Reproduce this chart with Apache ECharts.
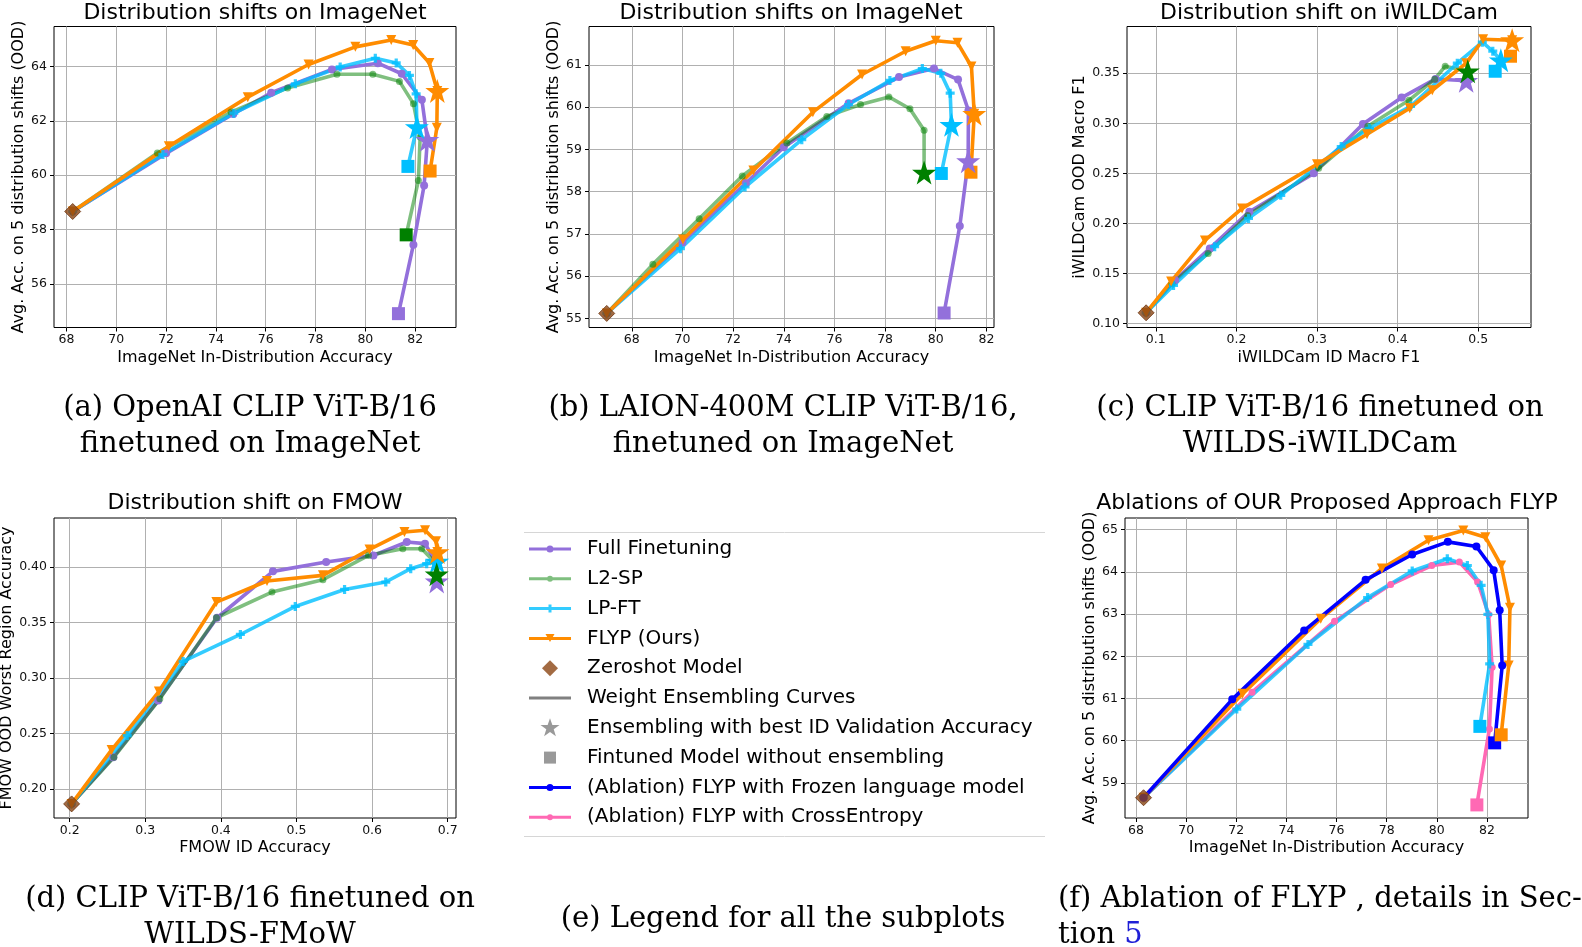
<!DOCTYPE html>
<html>
<head>
<meta charset="utf-8">
<script src="https://cdn.jsdelivr.net/npm/echarts@6.0.0/dist/echarts.min.js"></script>
<style>
  html, body { margin: 0; padding: 0; background: #fff; }
  #fig { width: 1582px; height: 947px; }
</style>
</head>
<body>
<div id="fig"></div>
<script>
// tick labels, one set per panel (a, b, c, d, f)
const aXTicks = [68, 70, 72, 74, 76, 78, 80, 82];
const aYTicks = [56, 58, 60, 62, 64];
const bXTicks = [68, 70, 72, 74, 76, 78, 80, 82];
const bYTicks = [55, 56, 57, 58, 59, 60, 61];
const cXTicks = [0.1, 0.2, 0.3, 0.4, 0.5];
const cYTicks = [0.10, 0.15, 0.20, 0.25, 0.30, 0.35];
const dXTicks = [0.2, 0.3, 0.4, 0.5, 0.6, 0.7];
const dYTicks = [0.20, 0.25, 0.30, 0.35, 0.40];
const fXTicks = [68, 70, 72, 74, 76, 78, 80, 82];
const fYTicks = [59, 60, 61, 62, 63, 64, 65];

// zeroshot model, panels a, b, c, d, f
const zeroX = [68.25, 67.01, 0.088, 0.2026, 68.3];
const zeroY = [58.66, 55.12, 0.1107, 0.1865, 58.65];

// (a) OpenAI CLIP ViT-B/16 on ImageNet
const aFullX = [68.25, 72.0, 74.7, 76.22, 78.66, 80.5, 81.46, 82.27, 82.49, 82.36, 81.93, 81.33];
const aFullY = [58.66, 60.8, 62.25, 63.03, 63.89, 64.12, 63.73, 62.77, 61.3, 59.62, 57.44, 54.9];
const aL2X = [68.25, 71.65, 74.61, 76.88, 78.86, 80.3, 81.37, 81.93, 82.2, 82.13, 81.64];
const aL2Y = [58.66, 60.81, 62.32, 63.21, 63.71, 63.71, 63.45, 62.63, 61.4, 59.8, 57.8];
const aLpX = [68.25, 71.87, 74.72, 77.19, 78.99, 80.4, 81.24, 81.77, 82.04, 82.07, 81.71];
const aLpY = [58.66, 60.76, 62.28, 63.36, 63.98, 64.3, 64.13, 63.67, 62.99, 61.77, 60.32];
const aFlypX = [68.25, 72.11, 75.28, 77.72, 79.6, 81.04, 81.92, 82.57, 82.89, 82.87, 82.6];
const aFlypY = [58.66, 61.06, 62.87, 64.07, 64.72, 64.97, 64.79, 64.13, 63.1, 61.74, 60.15];
const aStarNames = ['Full Finetuning', 'LP-FT', 'FLYP (Ours)'];
const aStarX = [82.49, 82.07, 82.89];
const aStarY = [61.3, 61.77, 63.1];
const aSquareNames = ['Full Finetuning', 'L2-SP', 'LP-FT', 'FLYP (Ours)'];
const aSquareX = [81.33, 81.64, 81.71, 82.6];
const aSquareY = [54.9, 57.8, 60.32, 60.15];

// (b) LAION-400M CLIP ViT-B/16 on ImageNet
const bFullX = [67.01, 70.0, 72.5, 74.0, 76.56, 78.55, 79.93, 80.88, 81.29, 81.28, 80.95, 80.33];
const bFullY = [55.12, 56.8, 58.2, 59.05, 60.09, 60.71, 60.91, 60.65, 59.92, 58.72, 57.19, 55.13];
const bL2X = [67.01, 68.83, 70.66, 72.36, 74.12, 75.7, 77.03, 78.15, 78.98, 79.54, 79.54];
const bL2Y = [55.12, 56.28, 57.36, 58.37, 59.15, 59.78, 60.06, 60.24, 59.96, 59.45, 58.45];
const bLpX = [67.01, 69.92, 72.47, 74.71, 76.56, 78.19, 79.47, 80.2, 80.57, 80.62, 80.22];
const bLpY = [55.12, 56.65, 58.11, 59.23, 60.06, 60.63, 60.91, 60.8, 60.33, 59.58, 58.43];
const bFlypX = [67.01, 70.02, 72.8, 75.15, 77.09, 78.81, 80.0, 80.86, 81.41, 81.52, 81.39];
const bFlypY = [55.12, 56.87, 58.5, 59.88, 60.77, 61.32, 61.57, 61.52, 60.96, 59.84, 58.46];
const bStarNames = ['L2-SP', 'LP-FT', 'Full Finetuning', 'FLYP (Ours)'];
const bStarX = [79.54, 80.62, 81.28, 81.52];
const bStarY = [58.45, 59.58, 58.72, 59.84];
const bSquareNames = ['Full Finetuning', 'LP-FT', 'FLYP (Ours)'];
const bSquareX = [80.33, 80.22, 81.39];
const bSquareY = [55.13, 58.43, 58.46];

// (c) WILDS-iWILDCam
const cFullX = [0.088, 0.124, 0.167, 0.216, 0.296, 0.357, 0.405, 0.447, 0.485];
const cFullY = [0.1107, 0.1433, 0.175, 0.2117, 0.250, 0.2993, 0.3257, 0.3443, 0.3425];
const cL2X = [0.088, 0.120, 0.165, 0.214, 0.302, 0.363, 0.414, 0.446, 0.459, 0.487];
const cL2Y = [0.1107, 0.140, 0.170, 0.208, 0.255, 0.297, 0.323, 0.344, 0.357, 0.352];
const cLpX = [0.088, 0.122, 0.173, 0.215, 0.255, 0.330, 0.365, 0.416, 0.474, 0.505, 0.518, 0.528];
const cLpY = [0.1107, 0.138, 0.1767, 0.205, 0.228, 0.2767, 0.295, 0.317, 0.360, 0.381, 0.372, 0.363];
const cFlypX = [0.088, 0.119, 0.161, 0.207, 0.300, 0.362, 0.415, 0.443, 0.485, 0.506, 0.542];
const cFlypY = [0.1107, 0.142, 0.183, 0.215, 0.259, 0.289, 0.315, 0.333, 0.360, 0.384, 0.383];
const cStarNames = ['Full Finetuning', 'L2-SP', 'LP-FT', 'FLYP (Ours)'];
const cStarX = [0.485, 0.487, 0.528, 0.542];
const cStarY = [0.3425, 0.352, 0.363, 0.383];
const cSquareNames = ['LP-FT', 'FLYP (Ours)'];
const cSquareX = [0.521, 0.540];
const cSquareY = [0.352, 0.367];

// (d) WILDS-FMoW
const dFullX = [0.2026, 0.2577, 0.3171, 0.395, 0.4689, 0.5393, 0.6018, 0.6459, 0.67, 0.684, 0.6855];
const dFullY = [0.1865, 0.2286, 0.2797, 0.3543, 0.3961, 0.4045, 0.4105, 0.4226, 0.4211, 0.405, 0.387];
const dL2X = [0.2026, 0.2585, 0.3193, 0.3941, 0.4676, 0.535, 0.5952, 0.6406, 0.6657, 0.682, 0.6855];
const dL2Y = [0.1865, 0.2286, 0.2812, 0.3543, 0.3774, 0.3886, 0.4105, 0.4165, 0.4165, 0.405, 0.3934];
const dLpX = [0.2026, 0.2761, 0.3501, 0.4258, 0.4984, 0.5636, 0.6181, 0.6511, 0.6722, 0.686];
const dLpY = [0.1865, 0.2481, 0.3149, 0.3392, 0.3645, 0.3798, 0.3865, 0.3985, 0.403, 0.405];
const dFlypX = [0.2026, 0.2555, 0.318, 0.3941, 0.461, 0.535, 0.5966, 0.6428, 0.6701, 0.6846, 0.6864];
const dFlypY = [0.1865, 0.2352, 0.2878, 0.3684, 0.3874, 0.3925, 0.4159, 0.4316, 0.4331, 0.4232, 0.4135];
const dStarNames = ['Full Finetuning', 'LP-FT', 'FLYP (Ours)', 'L2-SP'];
const dStarX = [0.6855, 0.686, 0.6864, 0.6855];
const dStarY = [0.387, 0.405, 0.4135, 0.3934];

// (f) ablations on ImageNet
const fLpX = [68.3, 72.02, 74.86, 77.24, 79.02, 80.42, 81.22, 81.77, 82.04, 82.11, 81.72];
const fLpY = [58.65, 60.75, 62.28, 63.39, 64.02, 64.31, 64.15, 63.68, 62.99, 61.82, 60.34];
const fCeX = [68.3, 72.63, 75.92, 78.16, 79.8, 80.9, 81.63, 82.07, 82.21, 82.1, 81.6];
const fCeY = [58.65, 61.15, 62.83, 63.7, 64.15, 64.23, 63.76, 62.99, 61.74, 60.28, 58.48];
const fFlypX = [68.3, 72.25, 75.37, 77.81, 79.67, 81.06, 81.94, 82.57, 82.92, 82.87, 82.57];
const fFlypY = [58.65, 61.11, 62.89, 64.08, 64.75, 64.98, 64.82, 64.15, 63.15, 61.78, 60.14];
const fFrozenX = [68.3, 71.84, 74.71, 77.16, 79.02, 80.44, 81.58, 82.27, 82.51, 82.61, 82.31];
const fFrozenY = [58.65, 60.98, 62.61, 63.81, 64.41, 64.71, 64.6, 64.04, 63.09, 61.78, 59.95];
const fSquareNames = ['LP-FT', '(Ablation) FLYP with Frozen language model', 'FLYP (Ours)', '(Ablation) FLYP with CrossEntropy'];
const fSquareX = [81.72, 82.31, 82.57, 81.6];
const fSquareY = [60.34, 59.95, 60.14, 58.48];

const FULL = 'Full Finetuning', L2 = 'L2-SP', LP = 'LP-FT', FLYP = 'FLYP (Ours)';
const FROZEN = '(Ablation) FLYP with Frozen language model', CE = '(Ablation) FLYP with CrossEntropy';
const ZERO = 'Zeroshot Model', WSE = 'Weight Ensembling Curves';
const BEST = 'Ensembling with best ID Validation Accuracy', FT = 'Fintuned Model without ensembling';

const STAR = 'path://M50,2L61.8,36.3L97.6,36.3L68.6,57.5L79.4,92L50,70.9L20.6,92L31.4,57.5L2.4,36.3L38.2,36.3Z';
const PLUS = 'path://M3.2,0H6.8V3.2H10V6.8H6.8V10H3.2V6.8H0V3.2H3.2Z';

const look = {};
look[FULL] = {color: '#9370DB', solid: '#9370DB', symbol: 'circle', size: 8};
look[L2] = {color: 'rgba(0,128,0,0.5)', solid: '#008000', symbol: 'circle', size: 7};
look[LP] = {color: 'rgba(0,191,255,0.8)', solid: '#00BFFF', symbol: PLUS, size: 9};
look[FLYP] = {color: '#FF8C00', solid: '#FF8C00', symbol: 'triangle', rotate: 180, size: 10};
look[FROZEN] = {color: '#0000FF', solid: '#0000FF', symbol: 'circle', size: 8};
look[CE] = {color: '#FF69B4', solid: '#FF69B4', symbol: 'circle', size: 7};

function pts(xs, ys) { return xs.map((x, i) => [x, ys[i]]); }

function curve(g, name, xs, ys) {
  const s = look[name];
  return {
    type: 'line', name: name, xAxisIndex: g, yAxisIndex: g, data: pts(xs, ys),
    symbol: s.symbol, symbolSize: s.size, symbolRotate: s.rotate || 0, showSymbol: true,
    lineStyle: {color: s.color, width: 3.6}, itemStyle: {color: s.color, borderWidth: 0},
    emphasis: {disabled: true}, z: 2
  };
}

function marks(g, names, xs, ys, star) {
  return names.map((n, i) => ({
    type: 'scatter', name: n, xAxisIndex: g, yAxisIndex: g, data: [[xs[i], ys[i]]],
    symbol: star ? STAR : 'rect', symbolSize: star ? 24 : 13,
    itemStyle: {color: look[n].solid, opacity: 1}, emphasis: {disabled: true}, z: star ? 4 : 3
  }));
}

function zero(g) {
  return {
    type: 'scatter', name: ZERO, xAxisIndex: g, yAxisIndex: g, data: [[zeroX[g], zeroY[g]]],
    symbol: 'diamond', symbolSize: 16, itemStyle: {color: '#8B4513', borderColor: '#6b3510', borderWidth: 1},
    emphasis: {disabled: true}, z: 5
  };
}

function axis(g, min, max, ticks, step, digits, name, gap, isX) {
  return {
    type: 'value', gridIndex: g, min: min, max: max, minInterval: step, maxInterval: step,
    name: name, nameLocation: 'middle', nameGap: gap,
    nameTextStyle: {fontSize: 16, color: '#000', fontFamily: 'DejaVu Sans'},
    axisLine: {show: false, onZero: false},
    axisTick: {show: true, inside: false, length: 4, lineStyle: {color: '#000', width: 1}, customValues: ticks},
    axisLabel: {show: true, fontSize: 12.5, color: '#111', margin: isX ? 6 : 7, customValues: ticks,
      formatter: v => Number(v).toFixed(digits)},
    splitLine: {show: true, lineStyle: {color: '#b0b0b0', width: 1}}
  };
}

const gridBase = {show: true, borderColor: '#000', borderWidth: 1, backgroundColor: 'transparent',
  containLabel: false, outerBoundsMode: 'none'};
const grids = [
  {left: 54, top: 26.5, width: 402, height: 301},
  {left: 589, top: 26.5, width: 405, height: 301},
  {left: 1127, top: 26.5, width: 404, height: 301},
  {left: 54, top: 518, width: 402, height: 300},
  {left: 1125, top: 518, width: 403, height: 300}
].map(g => Object.assign({}, gridBase, g));

const IN_ACC = 'ImageNet In-Distribution Accuracy';
const OOD_ACC = 'Avg. Acc. on 5 distribution shifts (OOD)';

const xAxes = [
  axis(0, 67.5, 83.64, aXTicks, 2, 0, IN_ACC, 22, true),
  axis(1, 66.31, 82.3, bXTicks, 2, 0, IN_ACC, 22, true),
  axis(2, 0.0643, 0.5654, cXTicks, 0.1, 1, 'iWILDCam ID Macro F1', 22, true),
  axis(3, 0.1793, 0.711, dXTicks, 0.1, 1, 'FMOW ID Accuracy', 22, true),
  axis(4, 67.56, 83.64, fXTicks, 2, 0, IN_ACC, 22, true)
];
const yAxes = [
  axis(0, 54.39, 65.47, aYTicks, 2, 0, OOD_ACC, 27, false),
  axis(1, 54.787, 61.906, bYTicks, 1, 0, OOD_ACC, 27, false),
  axis(2, 0.096, 0.3967, cYTicks, 0.05, 2, 'iWILDCam OOD Macro F1', 37, false),
  axis(3, 0.1738, 0.4442, dYTicks, 0.05, 2, 'FMOW OOD Worst Region Accuracy', 37, false),
  axis(4, 58.17, 65.275, fYTicks, 1, 0, OOD_ACC, 26, false)
];

// legend-only entries
const legendOnly = [
  {type: 'line', name: WSE, xAxisIndex: 0, yAxisIndex: 0, data: [], symbol: 'none',
    lineStyle: {color: '#808080', width: 3}, itemStyle: {color: '#808080'}},
  {type: 'scatter', name: BEST, xAxisIndex: 0, yAxisIndex: 0, data: [], itemStyle: {color: '#808080'}},
  {type: 'scatter', name: FT, xAxisIndex: 0, yAxisIndex: 0, data: [], itemStyle: {color: '#808080'}}
];

const series = [].concat(
  [curve(0, FULL, aFullX, aFullY), curve(0, L2, aL2X, aL2Y), curve(0, LP, aLpX, aLpY), curve(0, FLYP, aFlypX, aFlypY)],
  marks(0, aSquareNames, aSquareX, aSquareY, false), marks(0, aStarNames, aStarX, aStarY, true), [zero(0)],
  [curve(1, FULL, bFullX, bFullY), curve(1, L2, bL2X, bL2Y), curve(1, LP, bLpX, bLpY), curve(1, FLYP, bFlypX, bFlypY)],
  marks(1, bSquareNames, bSquareX, bSquareY, false), marks(1, bStarNames, bStarX, bStarY, true), [zero(1)],
  [curve(2, FULL, cFullX, cFullY), curve(2, L2, cL2X, cL2Y), curve(2, LP, cLpX, cLpY), curve(2, FLYP, cFlypX, cFlypY)],
  marks(2, cSquareNames, cSquareX, cSquareY, false), marks(2, cStarNames, cStarX, cStarY, true), [zero(2)],
  [curve(3, FULL, dFullX, dFullY), curve(3, L2, dL2X, dL2Y), curve(3, LP, dLpX, dLpY), curve(3, FLYP, dFlypX, dFlypY)],
  marks(3, dStarNames, dStarX, dStarY, true), [zero(3)],
  [curve(4, CE, fCeX, fCeY), curve(4, LP, fLpX, fLpY), curve(4, FLYP, fFlypX, fFlypY), curve(4, FROZEN, fFrozenX, fFrozenY)],
  marks(4, fSquareNames, fSquareX, fSquareY, false), [zero(4)],
  legendOnly
);

// legend icons: drawn inside a 53x20 box (the leading M points fix the box)
const BOX = 'path://M0,0M53,20';
const LINE = 'M0,8.5H42V11.5H0Z';
const dot = r => 'M' + (21 + r) + ',10A' + r + ',' + r + ' 0 1 1 ' + (21 - r) + ',10A' + r + ',' + r + ' 0 1 1 ' + (21 + r) + ',10Z';
const legendItems = [
  {name: FULL, icon: BOX + LINE + dot(3.5)},
  {name: L2, icon: BOX + LINE + dot(3)},
  {name: LP, icon: BOX + LINE + 'M19.5,6H22.5V14H19.5Z'},
  {name: FLYP, icon: BOX + LINE + 'M16.5,5.5H25.5L21,13.5Z'},
  {name: ZERO, icon: BOX + 'M21,2L29,10L21,18L13,10Z'},
  {name: WSE, icon: BOX + LINE},
  {name: BEST, icon: BOX + 'M21,0.4L23.36,7.26L30.52,7.26L24.72,11.5L26.88,18.4L21,14.18L15.12,18.4L17.28,11.5L11.48,7.26L18.64,7.26Z'},
  {name: FT, icon: BOX + 'M15,4H27V16H15Z'},
  {name: FROZEN, icon: BOX + LINE + dot(3.5)},
  {name: CE, icon: BOX + LINE + dot(3)}
];

const sub = {fontFamily: 'DejaVu Sans', fontSize: 22, fontWeight: 'normal', color: '#000', lineHeight: 24};
const cap = {fontFamily: 'DejaVu Serif', fontSize: 29, fontWeight: 'normal', color: '#000', lineHeight: 36,
  rich: {ref: {fontFamily: 'DejaVu Serif', fontSize: 29, color: '#1f1fd6', lineHeight: 36}}};
function ttl(text, x, y, style, align) {
  return {text: text, left: x, top: y, textAlign: align || 'center', padding: 0, textStyle: style};
}

const option = {
  animation: false,
  backgroundColor: '#fff',
  textStyle: {fontFamily: 'DejaVu Sans'},
  title: [
    ttl('Distribution shifts on ImageNet', 255, 1, sub),
    ttl('Distribution shifts on ImageNet', 791, 1, sub),
    ttl('Distribution shift on iWILDCam', 1329, 1, sub),
    ttl('Distribution shift on FMOW', 255, 491, sub),
    ttl('Ablations of OUR Proposed Approach FLYP', 1327, 491, sub),
    ttl('(a) OpenAI CLIP ViT-B/16\nfinetuned on ImageNet', 250, 390.5, cap),
    ttl('(b) LAION-400M CLIP ViT-B/16,\nfinetuned on ImageNet', 783, 390.5, cap),
    ttl('(c) CLIP ViT-B/16 finetuned on\nWILDS-iWILDCam', 1320, 390.5, cap),
    ttl('(d) CLIP ViT-B/16 finetuned on\nWILDS-FMoW', 250, 881.5, cap),
    ttl('(e) Legend for all the subplots', 783, 901.5, cap),
    ttl('(f) Ablation of FLYP , details in Sec-\ntion {ref|5}', 1058, 881.5, cap, 'left')
  ],
  legend: {
    orient: 'vertical', left: 529, top: 539, padding: 0,
    itemWidth: 53, itemHeight: 20, itemGap: 9.8, selectedMode: false,
    itemStyle: {borderWidth: 0},
    textStyle: {fontSize: 20, fontFamily: 'DejaVu Sans', color: '#000', lineHeight: 20},
    data: legendItems
  },
  graphic: [
    {type: 'line', shape: {x1: 524, y1: 532.5, x2: 1045, y2: 532.5}, style: {stroke: '#d6d6d6', lineWidth: 1}},
    {type: 'line', shape: {x1: 524, y1: 836.5, x2: 1045, y2: 836.5}, style: {stroke: '#d6d6d6', lineWidth: 1}}
  ],
  grid: grids,
  xAxis: xAxes,
  yAxis: yAxes,
  series: series
};

const chart = echarts.init(document.getElementById('fig'), null, {renderer: 'canvas'});
chart.setOption(option);
</script>
</body>
</html>
